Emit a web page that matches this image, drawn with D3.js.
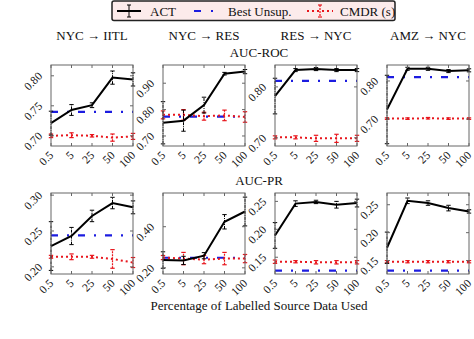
<!DOCTYPE html>
<html>
<head>
<script src="https://d3js.org/d3.v7.min.js"></script>
<style>
    body { margin: 0; background: #fff; }
    text { font-family: "Liberation Serif", "DejaVu Serif", serif; fill: #111; }
</style>
</head>
<body>
<div id="svg"></div>
<script>
// x categories and panel titles
var pcts = ["0.5", "5", "25", "50", "100"];
var pairs = ["NYC \u2192 IITL", "NYC \u2192 RES", "RES \u2192 NYC", "AMZ \u2192 NYC"];

// AUC-ROC
var rocAct     = [[0.721, 0.743, 0.751, 0.797, 0.794],
                  [0.750, 0.758, 0.817, 0.936, 0.944],
                  [0.782, 0.833, 0.835, 0.833, 0.833],
                  [0.725, 0.832, 0.832, 0.826, 0.828]];
var rocActErr  = [[0.020, 0.009, 0.004, 0.011, 0.011],
                  [0.080, 0.040, 0.030, 0.005, 0.008],
                  [0.035, 0.003, 0.003, 0.003, 0.003],
                  [0.090, 0.004, 0.004, 0.004, 0.004]];
var rocUnsup   = [0.740, 0.773, 0.812, 0.810];
var rocCmdr    = [[0.700, 0.701, 0.700, 0.697, 0.699],
                  [0.780, 0.780, 0.775, 0.778, 0.772],
                  [0.701, 0.701, 0.699, 0.699, 0.699],
                  [0.701, 0.701, 0.702, 0.701, 0.701]];
var rocCmdrErr = [[0.003, 0.004, 0.002, 0.006, 0.005],
                  [0.015, 0.020, 0.015, 0.020, 0.020],
                  [0.003, 0.003, 0.006, 0.008, 0.006],
                  [0.002, 0.002, 0.002, 0.002, 0.002]];
var rocDomain  = [[0.683, 0.818], [0.662, 0.969], [0.684, 0.843], [0.629, 0.842]];
var rocTicks   = [[0.70, 0.75, 0.80], [0.70, 0.80, 0.90], [0.70, 0.80], [0.70, 0.80]];

// AUC-PR
var prAct      = [[0.229, 0.243, 0.271, 0.289, 0.283],
                  [0.238, 0.236, 0.259, 0.424, 0.474],
                  [0.189, 0.246, 0.249, 0.244, 0.247],
                  [0.173, 0.257, 0.253, 0.244, 0.238]];
var prActErr   = [[0.034, 0.012, 0.008, 0.008, 0.009],
                  [0.040, 0.020, 0.015, 0.035, 0.070],
                  [0.023, 0.005, 0.003, 0.006, 0.007],
                  [0.028, 0.005, 0.004, 0.005, 0.003]];
var prUnsup    = [0.244, 0.249, 0.126, 0.132];
var prCmdr     = [[0.214, 0.214, 0.214, 0.211, 0.206],
                  [0.250, 0.245, 0.240, 0.245, 0.245],
                  [0.142, 0.142, 0.141, 0.141, 0.141],
                  [0.148, 0.148, 0.148, 0.148, 0.148]];
var prCmdrErr  = [[0.002, 0.004, 0.002, 0.013, 0.007],
                  [0.010, 0.030, 0.020, 0.030, 0.020],
                  [0.003, 0.002, 0.003, 0.003, 0.003],
                  [0.002, 0.002, 0.002, 0.002, 0.002]];
var prDomain   = [[0.190, 0.303], [0.170, 0.564], [0.120, 0.265], [0.126, 0.271]];
var prTicks    = [[0.20, 0.25, 0.30], [0.20, 0.40], [0.15, 0.20, 0.25], [0.15, 0.20, 0.25]];

var rows = [
    { name: "AUC-ROC", act: rocAct, actErr: rocActErr, unsup: rocUnsup, cmdr: rocCmdr, cmdrErr: rocCmdrErr, domain: rocDomain, ticks: rocTicks },
    { name: "AUC-PR",  act: prAct,  actErr: prActErr,  unsup: prUnsup,  cmdr: prCmdr,  cmdrErr: prCmdrErr,  domain: prDomain,  ticks: prTicks }
];

var W = 474, H = 339;
var lefts = [51, 163, 275, 387], tops = [65, 193];
var pw = 82, ph = 81;
var black = "#000", blue = "#1c1ce0", red = "#e8161d";

var svg = d3.select("#svg").append("svg")
    .attr("width", W).attr("height", H);

// legend
var lg = svg.append("g");
lg.append("rect").attr("x", 112).attr("y", 1).attr("width", 283).attr("height", 19.5)
    .attr("rx", 2).style("fill", "#fcebeb").style("stroke", "#222").style("stroke-width", 1.5);
lg.append("line").attr("x1", 117).attr("x2", 141).attr("y1", 11).attr("y2", 11)
    .style("stroke", black).style("stroke-width", 2);
lg.append("line").attr("x1", 129).attr("x2", 129).attr("y1", 5).attr("y2", 17).style("stroke", black).style("stroke-width", 1);
lg.append("line").attr("x1", 127).attr("x2", 131).attr("y1", 5).attr("y2", 5).style("stroke", black).style("stroke-width", 1);
lg.append("line").attr("x1", 127).attr("x2", 131).attr("y1", 17).attr("y2", 17).style("stroke", black).style("stroke-width", 1);
lg.append("text").attr("x", 150).attr("y", 15.5).text("ACT").style("font-size", "13px");
lg.append("line").attr("x1", 194).attr("x2", 216).attr("y1", 11).attr("y2", 11)
    .style("stroke", blue).style("stroke-width", 2.2).style("stroke-dasharray", "7,10,2,30");
lg.append("text").attr("x", 228).attr("y", 15.5).text("Best Unsup.").style("font-size", "13px");
lg.append("line").attr("x1", 307).attr("x2", 333).attr("y1", 11).attr("y2", 11)
    .style("stroke", red).style("stroke-width", 2).style("stroke-dasharray", "2,3");
lg.append("line").attr("x1", 320).attr("x2", 320).attr("y1", 5).attr("y2", 17).style("stroke", red).style("stroke-width", 1.2).style("stroke-dasharray", "2,1");
lg.append("line").attr("x1", 318).attr("x2", 322).attr("y1", 5).attr("y2", 5).style("stroke", red).style("stroke-width", 1.2);
lg.append("line").attr("x1", 318).attr("x2", 322).attr("y1", 17).attr("y2", 17).style("stroke", red).style("stroke-width", 1.2);
lg.append("text").attr("x", 340).attr("y", 15.5).text("CMDR (s)").style("font-size", "13px");

// column titles
svg.selectAll(".coltitle").data(pairs).enter().append("text")
    .attr("x", function (d, i) { return lefts[i] + pw / 2; })
    .attr("y", 39.5)
    .style("text-anchor", "middle").style("font-size", "13px")
    .text(function (d) { return d; });

// x axis label
svg.append("text").attr("x", 259).attr("y", 310)
    .style("text-anchor", "middle").style("font-size", "13px")
    .text("Percentage of Labelled Source Data Used");

var x = d3.scalePoint().domain(pcts).range([0, pw]);

function errBars(g, vals, errs, color, dash, w) {
    var eb = g.append("g");
    vals.forEach(function (v, i) {
        var y0 = g.yScale(v - errs[i]), y1 = g.yScale(v + errs[i]), cx = x(pcts[i]);
        eb.append("line").attr("x1", cx).attr("x2", cx).attr("y1", y0).attr("y2", y1)
            .style("stroke", color).style("stroke-width", w).style("stroke-dasharray", dash);
        [y0, y1].forEach(function (yy) {
            eb.append("line").attr("x1", cx - 2.2).attr("x2", cx + 2.2).attr("y1", yy).attr("y2", yy)
                .style("stroke", color).style("stroke-width", w);
        });
    });
}

rows.forEach(function (row, r) {
    svg.append("text").attr("x", 259).attr("y", tops[r] - 8)
        .style("text-anchor", "middle").style("font-size", "13px").text(row.name);

    pairs.forEach(function (p, j) {
        var y = d3.scaleLinear().domain(row.domain[j]).range([ph, 0]);
        var g = svg.append("g").attr("transform", "translate(" + lefts[j] + "," + tops[r] + ")");
        g.yScale = y;
        var cid = "clip" + r + "_" + j;
        g.append("clipPath").attr("id", cid).append("rect")
            .attr("x", -3).attr("y", 0).attr("width", pw + 6).attr("height", ph);
        var pg = g.append("g").attr("clip-path", "url(#" + cid + ")");
        pg.yScale = y;

        // best unsupervised, constant
        pg.append("line").attr("x1", x(pcts[0])).attr("x2", x(pcts[pcts.length - 1]))
            .attr("y1", y(row.unsup[j])).attr("y2", y(row.unsup[j]))
            .style("stroke", blue).style("stroke-width", 2.2).style("stroke-dasharray", "7,9,2,9");

        // CMDR
        var line = d3.line().x(function (d, i) { return x(pcts[i]); }).y(function (d) { return y(d); });
        pg.append("path").attr("d", line(row.cmdr[j])).style("fill", "none")
            .style("stroke", red).style("stroke-width", 2).style("stroke-dasharray", "2,3");
        errBars(pg, row.cmdr[j], row.cmdrErr[j], red, "2,1", 1.2);

        // ACT
        errBars(pg, row.act[j], row.actErr[j], black, "3,1,1,1", 1);
        pg.append("path").attr("d", line(row.act[j])).style("fill", "none")
            .style("stroke", black).style("stroke-width", 2);

        // frame and inward ticks
        g.append("rect").attr("width", pw).attr("height", ph)
            .style("fill", "none").style("stroke", "#666").style("stroke-width", 1);
        row.ticks[j].forEach(function (t) {
            g.append("line").attr("x1", 0).attr("x2", 3).attr("y1", y(t)).attr("y2", y(t)).style("stroke", "#666");
            g.append("line").attr("x1", pw).attr("x2", pw - 3).attr("y1", y(t)).attr("y2", y(t)).style("stroke", "#666");
            g.append("text").attr("transform", "translate(-8," + (y(t) + 1) + ") rotate(-45)")
                .style("text-anchor", "end").style("font-size", "11.5px")
                .text(d3.format(".2f")(t));
        });
        pcts.forEach(function (c) {
            g.append("line").attr("x1", x(c)).attr("x2", x(c)).attr("y1", ph).attr("y2", ph - 3).style("stroke", "#666");
            g.append("line").attr("x1", x(c)).attr("x2", x(c)).attr("y1", 0).attr("y2", 3).style("stroke", "#666");
            g.append("text").attr("transform", "translate(" + (x(c) + 3) + "," + (ph + 10) + ") rotate(-45)")
                .style("text-anchor", "end").style("font-size", "11.5px")
                .text(c);
        });
    });
});
</script>
</body>
</html>
